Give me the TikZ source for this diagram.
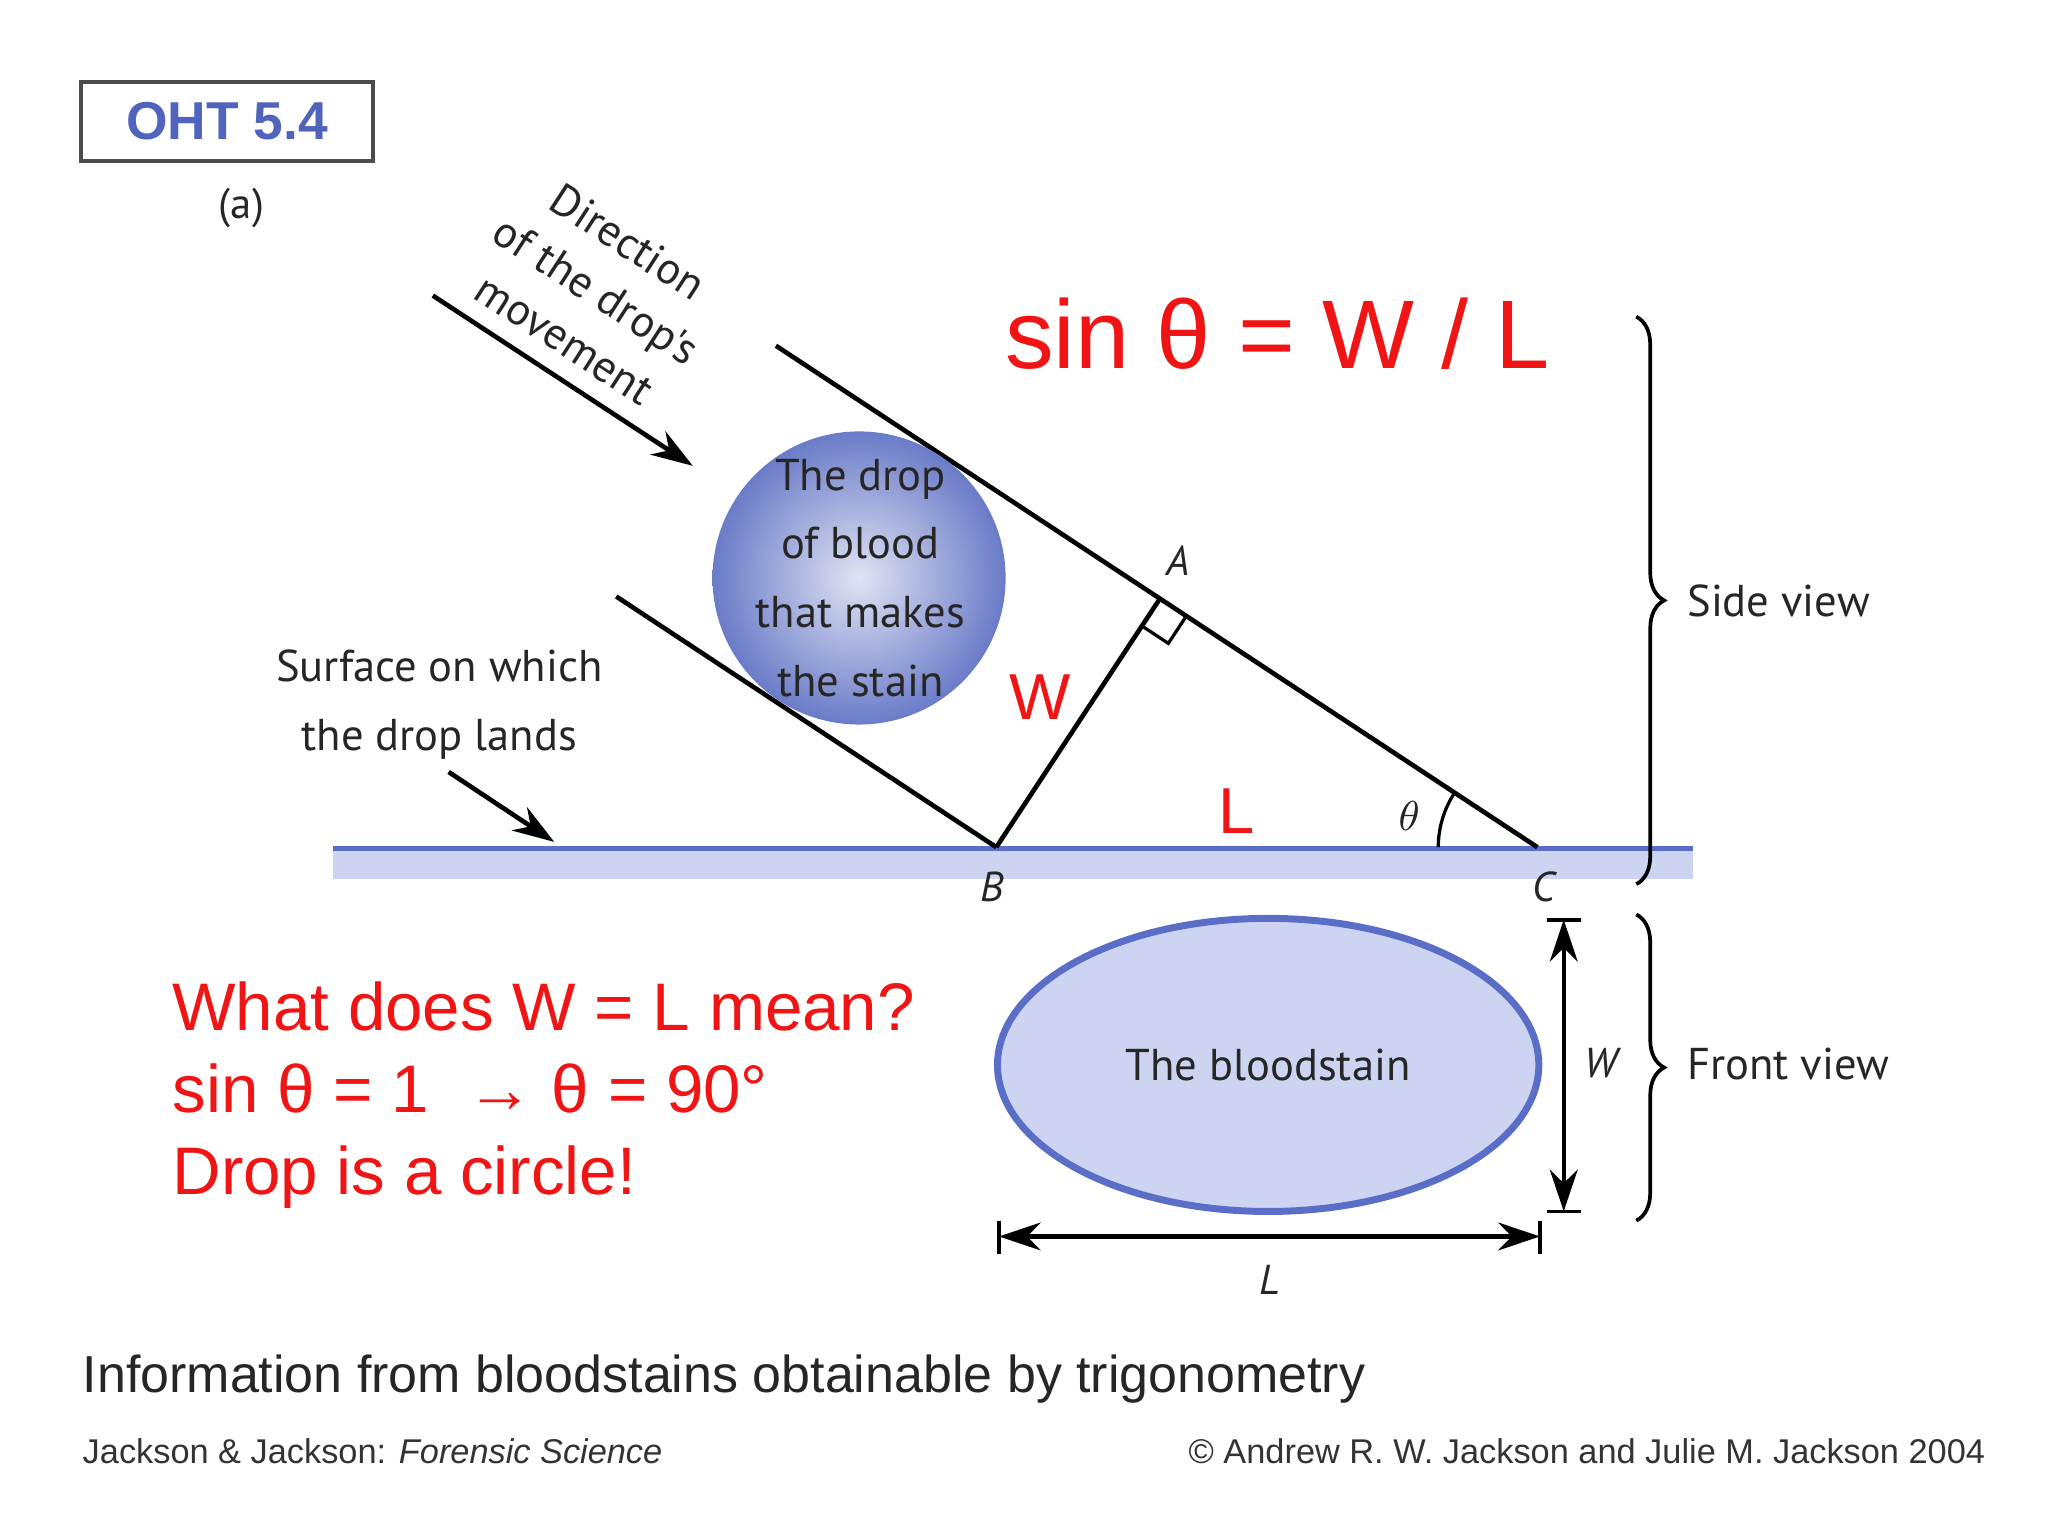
\documentclass[tikz,border=0pt]{standalone}
\usepackage{fontspec}
\setmainfont{Liberation Sans}
\newfontfamily\lab{PT Sans}
\usetikzlibrary{calc,arrows.meta,decorations.pathreplacing}
\definecolor{ohtblue}{RGB}{80,100,190}
\definecolor{surf}{RGB}{205,212,242}
\definecolor{edge}{RGB}{90,110,200}
\definecolor{redt}{RGB}{240,20,20}
\tikzset{
 x=0.01cm,y=-0.01cm,
 lbl/.style={font=\lab\fontsize{9.2}{12}\selectfont,align=center,inner sep=0,text=black!85},
 red/.style={text=redt,inner sep=0},
 dim/.style={-{Stealth[length=9pt,width=6pt]},line width=0.9pt},
 ln/.style={line width=1pt}
}
\begin{document}
\begin{tikzpicture}
\useasboundingbox (0,0) rectangle (1552,1164);
\node[draw=black!70,line width=0.8pt,minimum width=2.21cm,minimum height=0.6cm,text=ohtblue,font=\bfseries\fontsize{11.5}{14}\selectfont] (oht) at (172,92) {OHT 5.4};
\node[lbl] (a) at (183,158) {(a)};
\fill[surf] (252,643) rectangle (1283,666);
\draw[edge,line width=1pt] (252,643) -- (1283,643);
\coordinate (B) at (755,642);
\coordinate (C) at (1165,642);
\coordinate (U) at (588,262);
\coordinate (D) at (467,452);
\coordinate (A) at ($(U)!(B)!(C)$);
\draw[ln] (U) -- (C);
\draw[ln] (D) -- (B);
\draw[ln] (B) -- (A);
\coordinate (r1) at ($(A)!0.11!(B)$);
\coordinate (r2) at ($(A)!0.07!(C)$);
\draw[line width=0.7pt] (r1) -- ($(r1)+(r2)-(A)$) -- (r2);
\draw[line width=0.7pt] ($(C)!0.75cm!(U)$) arc[start angle=146.6,end angle=180,radius=0.75cm];
\node[lbl] (th) at (1068,618) {$\theta$};
\shade[inner color=ohtblue!18!white,outer color=ohtblue!85!white] (651,438) circle[radius=1.11cm];
\node[lbl,font=\lab\fontsize{9.6}{14.8}\selectfont] (drop) at (652,438) {The drop\\of blood\\that makes\\the stain};
\node[lbl,font=\lab\itshape\fontsize{9}{12}\selectfont] (Al) at (893,425) {A};
\node[lbl,font=\lab\itshape\fontsize{9}{12}\selectfont] (Bl) at (752,672) {B};
\node[lbl,font=\lab\itshape\fontsize{9}{12}\selectfont] (Cl) at (1170,672) {C};
\coordinate (d1) at (328,224); \coordinate (d2) at (525,353);
\draw[ln,-{Stealth[length=9pt,width=6pt]}] (d1) -- (d2);
\node[lbl,rotate=-33,font=\lab\fontsize{9.6}{12.5}\selectfont] (dir) at (452,220) {Direction\\of the drop's\\movement};
\node[lbl,font=\lab\fontsize{9.6}{14.8}\selectfont] (sl) at (333,534) {Surface on which\\the drop lands};
\coordinate (s1) at (340,585); \coordinate (s2) at (420,638);
\draw[ln,-{Stealth[length=9pt,width=6pt]}] (s1) -- (s2);
\node[red,font=\fontsize{21}{26}\selectfont] (f) at (968,253) {sin θ = W / L};
\node[red,font=\fontsize{14}{18}\selectfont] (Wr) at (788,528) {W};
\node[red,font=\fontsize{14}{18}\selectfont] (Lr) at (937,615) {L};
\node[red,anchor=west,align=left,font=\fontsize{14.5}{17.6}\selectfont] (q) at (130,830) {What does W = L mean?\\sin θ = 1 \ → θ = 90°\\Drop is a circle!};
\draw[line width=0.8pt,decorate,decoration={brace,amplitude=6pt}] (1240,240) -- (1240,670);
\node[lbl,anchor=west,font=\lab\fontsize{9.6}{12}\selectfont] (sv) at (1278,455) {Side view};
\draw[line width=0.8pt,decorate,decoration={brace,amplitude=6pt}] (1240,693) -- (1240,925);
\node[lbl,anchor=west,font=\lab\fontsize{9.6}{12}\selectfont] (fv) at (1278,806) {Front view};
\draw[edge,fill=surf,line width=1.5pt] (961,807) ellipse[x radius=2.05cm,y radius=1.11cm];
\node[lbl,font=\lab\fontsize{9.6}{12}\selectfont] (bs) at (961,807) {The bloodstain};
\coordinate (w1) at (1185,697); \coordinate (w2) at (1185,918);
\draw[line width=0.8pt] (1172,697) -- (1198,697) (1172,918) -- (1198,918);
\draw[dim,{Stealth[length=9pt,width=6pt]}-{Stealth[length=9pt,width=6pt]}] (w1) -- (w2);
\node[lbl,font=\lab\itshape\fontsize{9}{12}\selectfont] (Wl) at (1213,806) {W};
\coordinate (l1) at (757,937); \coordinate (l2) at (1167,937);
\draw[line width=0.8pt] (757,925) -- (757,950) (1167,925) -- (1167,950);
\draw[dim,{Stealth[length=9pt,width=6pt]}-{Stealth[length=9pt,width=6pt]}] (l1) -- (l2);
\node[lbl,font=\lab\itshape\fontsize{9}{12}\selectfont] (Ll) at (962,970) {L};
\node[anchor=west,inner sep=0,font=\fontsize{11.2}{14}\selectfont,text=black!85] (cap) at (62,1045) {Information from bloodstains obtainable by trigonometry};
\node[anchor=west,inner sep=0,font=\fontsize{7.4}{10}\selectfont,text=black!80] (f1) at (62,1100) {Jackson \& Jackson: \textit{Forensic Science}};
\node[anchor=east,inner sep=0,font=\fontsize{7.4}{10}\selectfont,text=black!80] (f2) at (1505,1100) {© Andrew R. W. Jackson and Julie M. Jackson 2004};
\end{tikzpicture}
\end{document}
